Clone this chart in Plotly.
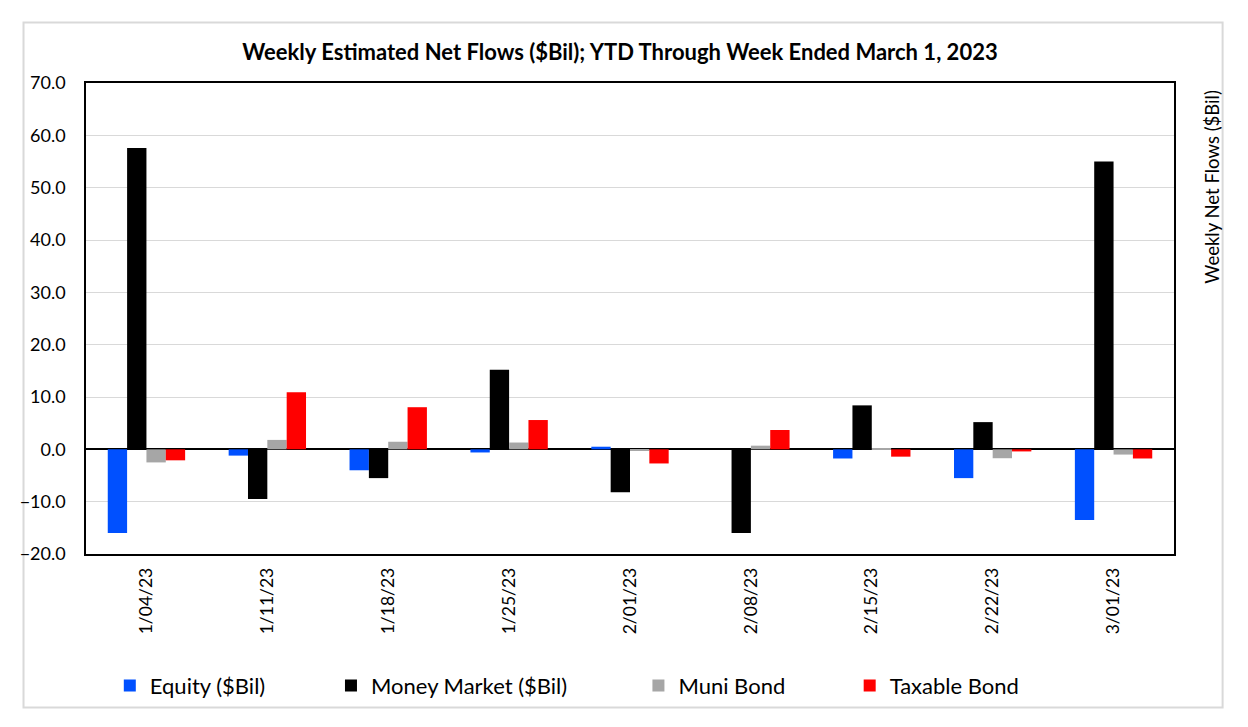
import plotly.graph_objects as go

weeks = ["1/04/23", "1/11/23", "1/18/23", "1/25/23", "2/01/23", "2/08/23", "2/15/23", "2/22/23", "3/01/23"]
equity = [-16.0, -1.2, -4.0, -0.6, 0.5, 0.0, -1.75, -5.5, -13.5]
money_market = [57.6, -9.5, -5.5, 15.2, -8.2, -16.0, 8.4, 5.2, 55.0]
muni_bond = [-2.5, 1.8, 1.45, 1.3, -0.2, 0.7, 0.1, -1.7, -1.0]
taxable_bond = [-2.1, 10.9, 8.05, 5.6, -2.7, 3.7, -1.4, -0.4, -1.75]

series = [
    ("Equity ($Bil)", equity, "#0050ff", "legend"),
    ("Money Market ($Bil)", money_market, "#000000", "legend2"),
    ("Muni Bond", muni_bond, "#a6a6a6", "legend3"),
    ("Taxable Bond", taxable_bond, "#ff0000", "legend4"),
]

FONT = "Lato"
OFF = 8  # page body margin
W, H = 1248 - 2 * OFF, 727 - 2 * OFF
# plot area in screen pixels
SX0, SX1, SY0, SY1 = 77, 1174, 82.7, 555
L = SX0 - OFF
R = W - (SX1 - OFF)
T = SY0 - OFF
B = H - (SY1 - OFF)
pw = W - L - R
ph = H - T - B

def px_x(p):
    return (p - OFF - L) / pw

def px_y(p):
    return (H - B - (p - OFF)) / ph

fig = go.Figure()
for name, vals, color, lg in series:
    fig.add_trace(go.Bar(x=weeks, y=vals, name=name, marker_color=color,
                         marker_line_width=0, legend=lg, showlegend=True))

legend_common = dict(orientation="h", yanchor="middle", xanchor="left",
                     font=dict(family=FONT, size=22, color="#000"),
                     bgcolor="rgba(0,0,0,0)", itemwidth=30, visible=True)
marker_centers = [129, 352, 662, 875]
leg_x = [c - 28 for c in marker_centers]

fig.update_layout(
    width=W, height=H,
    margin=dict(l=L, r=R, t=T, b=B),
    paper_bgcolor="white", plot_bgcolor="white",
    barmode="group", bargap=0.36, bargroupgap=0,
    showlegend=True,
    title=dict(text="<b>Weekly Estimated Net Flows ($Bil); YTD Through Week Ended March 1, 2023</b>",
               x=0.5 + (620 - OFF - W / 2) / W, xref="container", xanchor="center",
               y=1 - (52 - OFF) / H, yref="container", yanchor="middle",
               font=dict(family=FONT, size=22, color="#000")),
    legend=dict(x=px_x(leg_x[0]), y=px_y(687), **legend_common),
    legend2=dict(x=px_x(leg_x[1]), y=px_y(687), **legend_common),
    legend3=dict(x=px_x(leg_x[2]), y=px_y(687), **legend_common),
    legend4=dict(x=px_x(leg_x[3]), y=px_y(687), **legend_common),
    xaxis=dict(tickangle=-90, showline=True, mirror=True, linecolor="#000", linewidth=1.5,
               tickfont=dict(family=FONT, size=17.5, color="#000"), showgrid=False,
               ticks="", ticklabelstandoff=5),
    yaxis=dict(range=[-20, 70], dtick=10, tickformat=".1f", showgrid=True,
               gridcolor="#d9d9d9", gridwidth=1, zeroline=True, zerolinecolor="#000",
               zerolinewidth=1.5, showline=True, mirror=True, linecolor="#000",
               linewidth=1.5, ticks="", ticklabelstandoff=15,
               tickfont=dict(family=FONT, size=18, color="#000")),
    shapes=[dict(type="rect", xref="paper", yref="paper",
                 x0=px_x(14), x1=px_x(1223), y0=px_y(709), y1=px_y(22),
                 line=dict(color="#d9d9d9", width=2), layer="below")],
    annotations=[dict(text="Weekly Net Flows ($Bil)", textangle=-90,
                      xref="paper", yref="paper", x=px_x(1212), y=px_y(187),
                      xanchor="center", yanchor="middle", showarrow=False,
                      font=dict(family=FONT, size=18.5, color="#000"))],
)

fig.write_html("out.html")
